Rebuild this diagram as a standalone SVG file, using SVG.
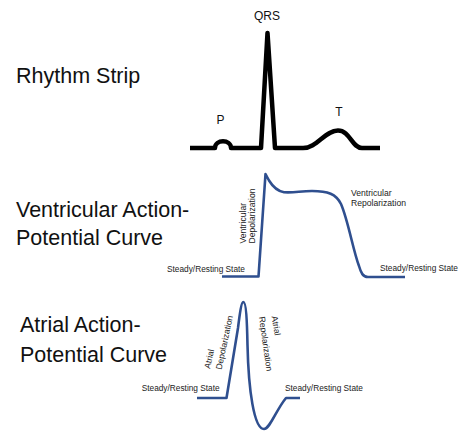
<svg xmlns="http://www.w3.org/2000/svg" width="474" height="431" viewBox="0 0 474 431">
<style>
.title{font-family:"Liberation Sans",Arial,sans-serif;font-size:21.5px;fill:#111}
.wave{font-family:"Liberation Sans",Arial,sans-serif;font-size:12px;fill:#111}
.lbl{font-family:"Liberation Sans",Arial,sans-serif;font-size:8.6px;fill:#222}
.st{font-family:"Liberation Sans",Arial,sans-serif;font-size:8.3px;fill:#222}
.ecg{fill:none;stroke:#000;stroke-width:4.5;stroke-linejoin:round;stroke-linecap:butt}
.ap{fill:none;stroke:#2f4f8f;stroke-width:2.6;stroke-linejoin:round}
</style>
<rect width="474" height="431" fill="#fff"/>
<g id="rhythm-strip">
<text class="title" x="16" y="83">Rhythm Strip</text>
<path class="ecg" d="M190,148 H215 C215,139 231,139 231,148 H261 L267.5,33 L275,148 H303 C317,148 325,130.5 338,130.5 C350,130.5 352,148 362,148 H380"/>
<text class="wave" x="267" y="20" text-anchor="middle">QRS</text>
<text class="wave" x="220.5" y="124" text-anchor="middle">P</text>
<text class="wave" x="339" y="116" text-anchor="middle">T</text>
</g>
<g id="ventricular">
<text class="title" x="16" y="217">Ventricular Action-</text>
<text class="title" x="16" y="245">Potential Curve</text>
<path class="ap" d="M222,276.5 H258.5 L265.5,174 L269,180.5 C273,187 277,191 284,192.3 C295,193 300,191 312,191 C328,191 336,194 341,204 C348,220 353,250 359,266 C361,273 363,277 368,277 H405"/>
<text class="lbl" transform="translate(245.5,243.5) rotate(-90)">Ventricular</text>
<text class="lbl" transform="translate(254.5,243.5) rotate(-90)">Depolarization</text>
<text class="lbl" x="351" y="195.5">Ventricular</text>
<text class="lbl" x="351" y="206">Repolarization</text>
<text class="st" x="167" y="271.7">Steady/Resting State</text>
<text class="st" x="380" y="270.5">Steady/Resting State</text>
</g>
<g id="atrial">
<text class="title" x="20" y="332">Atrial Action-</text>
<text class="title" x="20" y="362">Potential Curve</text>
<path class="ap" d="M197,398 H226.5 L238,328 C240,312 241.5,302 243.3,302 C246,302 247,320 247.5,345 C248.5,390 254,429 264,429 C270,429 276,410 286,398 H300"/>
<text class="lbl" transform="translate(210,369) rotate(-78)">Atrial</text>
<text class="lbl" transform="translate(221.5,370) rotate(-78)">Depolarization</text>
<text class="lbl" transform="translate(271.5,316.5) rotate(80)">Atrial</text>
<text class="lbl" transform="translate(259,317) rotate(82)">Repolarization</text>
<text class="st" x="141.7" y="391">Steady/Resting State</text>
<text class="st" x="285" y="391">Steady/Resting State</text>
</g>
</svg>
